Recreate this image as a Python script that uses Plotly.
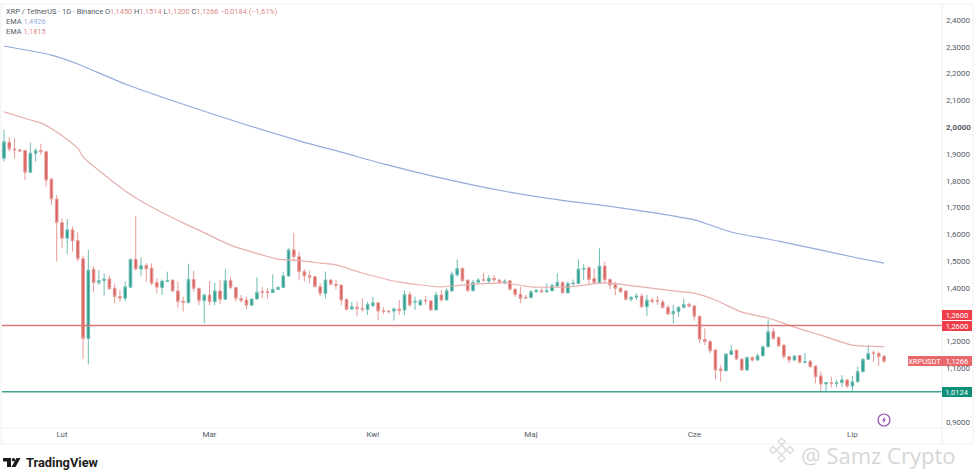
import pandas as pd
import plotly.graph_objects as go

# XRP / TetherUS daily candles
first_day = "2026-01-21"

open_prices = [
    1.884, 1.944, 1.919, 1.915, 1.913, 1.832, 1.903, 1.913, 1.908, 1.806,
    1.732, 1.644, 1.586, 1.617, 1.577, 1.509, 1.212, 1.470, 1.420, 1.428,
    1.434, 1.399, 1.368, 1.362, 1.403, 1.507, 1.471, 1.484, 1.474, 1.420,
    1.402, 1.424, 1.430, 1.389, 1.351, 1.345, 1.432, 1.399, 1.353, 1.374,
    1.349, 1.389, 1.358, 1.427, 1.402, 1.361, 1.355, 1.336, 1.359, 1.386,
    1.386, 1.383, 1.395, 1.402, 1.445, 1.542, 1.517, 1.461, 1.446, 1.442,
    1.405, 1.380, 1.430, 1.414, 1.411, 1.358, 1.322, 1.328, 1.324, 1.320,
    1.335, 1.345, 1.315, 1.314, 1.314, 1.322, 1.318, 1.376, 1.347, 1.337,
    1.355, 1.352, 1.318, 1.374, 1.355, 1.389, 1.449, 1.473, 1.430, 1.390,
    1.421, 1.431, 1.426, 1.436, 1.430, 1.420, 1.427, 1.395, 1.377, 1.365,
    1.365, 1.386, 1.390, 1.386, 1.390, 1.407, 1.421, 1.382, 1.415, 1.417,
    1.470, 1.476, 1.435, 1.420, 1.482, 1.432, 1.414, 1.399, 1.389, 1.358,
    1.365, 1.370, 1.330, 1.355, 1.353, 1.348, 1.328, 1.304, 1.312, 1.328,
    1.339, 1.333, 1.295, 1.208, 1.200, 1.169, 1.098, 1.091, 1.152, 1.168,
    1.135, 1.094, 1.141, 1.131, 1.147, 1.181, 1.237, 1.216, 1.187, 1.144,
    1.131, 1.148, 1.123, 1.127, 1.109, 1.072, 1.042, 1.046, 1.044, 1.047,
    1.057, 1.034, 1.050, 1.088, 1.134, 1.158, 1.156, 1.145,
]
high_prices = [
    1.990, 1.963, 1.959, 1.919, 1.915, 1.943, 1.921, 1.938, 1.913, 1.810,
    1.747, 1.660, 1.657, 1.629, 1.608, 1.520, 1.542, 1.482, 1.467, 1.455,
    1.446, 1.415, 1.393, 1.424, 1.510, 1.669, 1.515, 1.492, 1.492, 1.436,
    1.432, 1.461, 1.430, 1.424, 1.368, 1.490, 1.465, 1.399, 1.378, 1.427,
    1.420, 1.430, 1.470, 1.442, 1.402, 1.374, 1.368, 1.362, 1.440, 1.405,
    1.399, 1.451, 1.407, 1.461, 1.548, 1.606, 1.536, 1.470, 1.465, 1.445,
    1.417, 1.461, 1.432, 1.430, 1.411, 1.358, 1.349, 1.349, 1.361, 1.349,
    1.368, 1.345, 1.328, 1.318, 1.328, 1.355, 1.390, 1.386, 1.368, 1.358,
    1.370, 1.352, 1.386, 1.393, 1.399, 1.461, 1.507, 1.477, 1.430, 1.430,
    1.437, 1.458, 1.448, 1.448, 1.432, 1.432, 1.430, 1.399, 1.405, 1.374,
    1.392, 1.395, 1.399, 1.417, 1.417, 1.455, 1.424, 1.424, 1.432, 1.507,
    1.489, 1.480, 1.473, 1.548, 1.498, 1.436, 1.424, 1.402, 1.392, 1.370,
    1.380, 1.380, 1.374, 1.365, 1.370, 1.355, 1.337, 1.337, 1.333, 1.361,
    1.345, 1.337, 1.295, 1.249, 1.206, 1.169, 1.112, 1.154, 1.187, 1.171,
    1.135, 1.144, 1.144, 1.156, 1.184, 1.283, 1.250, 1.218, 1.187, 1.146,
    1.150, 1.150, 1.158, 1.131, 1.109, 1.088, 1.050, 1.069, 1.057, 1.075,
    1.059, 1.072, 1.106, 1.138, 1.187, 1.166, 1.162, 1.1514,
]
low_prices = [
    1.872, 1.909, 1.884, 1.908, 1.803, 1.828, 1.872, 1.897, 1.778, 1.710,
    1.499, 1.548, 1.527, 1.536, 1.499, 1.134, 1.115, 1.384, 1.411, 1.372,
    1.393, 1.343, 1.347, 1.349, 1.400, 1.465, 1.446, 1.424, 1.412, 1.380,
    1.374, 1.422, 1.386, 1.326, 1.312, 1.345, 1.386, 1.336, 1.268, 1.336,
    1.336, 1.340, 1.356, 1.395, 1.349, 1.346, 1.320, 1.334, 1.358, 1.361,
    1.361, 1.383, 1.392, 1.402, 1.442, 1.498, 1.430, 1.424, 1.417, 1.402,
    1.370, 1.361, 1.411, 1.395, 1.337, 1.318, 1.318, 1.295, 1.312, 1.299,
    1.328, 1.281, 1.303, 1.305, 1.278, 1.299, 1.299, 1.330, 1.318, 1.333,
    1.337, 1.315, 1.318, 1.349, 1.355, 1.386, 1.442, 1.423, 1.386, 1.386,
    1.415, 1.424, 1.417, 1.424, 1.417, 1.414, 1.392, 1.367, 1.343, 1.358,
    1.361, 1.382, 1.382, 1.382, 1.386, 1.405, 1.380, 1.380, 1.411, 1.417,
    1.430, 1.411, 1.417, 1.417, 1.415, 1.395, 1.374, 1.382, 1.353, 1.349,
    1.355, 1.325, 1.296, 1.343, 1.337, 1.324, 1.299, 1.268, 1.293, 1.324,
    1.328, 1.278, 1.193, 1.187, 1.156, 1.059, 1.050, 1.088, 1.150, 1.131,
    1.091, 1.091, 1.125, 1.129, 1.144, 1.178, 1.206, 1.179, 1.134, 1.119,
    1.129, 1.119, 1.119, 1.104, 1.044, 1.013, 1.013, 1.029, 1.029, 1.029,
    1.026, 1.016, 1.047, 1.084, 1.131, 1.125, 1.109, 1.120,
]
close_prices = [
    1.946, 1.919, 1.915, 1.911, 1.832, 1.903, 1.913, 1.908, 1.803, 1.732,
    1.644, 1.586, 1.617, 1.576, 1.509, 1.212, 1.467, 1.420, 1.428, 1.434,
    1.397, 1.368, 1.362, 1.405, 1.507, 1.471, 1.484, 1.471, 1.418, 1.403,
    1.426, 1.427, 1.389, 1.349, 1.346, 1.432, 1.399, 1.353, 1.374, 1.349,
    1.389, 1.358, 1.427, 1.402, 1.361, 1.353, 1.336, 1.359, 1.384, 1.384,
    1.383, 1.395, 1.402, 1.445, 1.542, 1.517, 1.461, 1.445, 1.440, 1.405,
    1.380, 1.430, 1.414, 1.410, 1.355, 1.320, 1.330, 1.323, 1.320, 1.339,
    1.345, 1.314, 1.313, 1.312, 1.322, 1.315, 1.376, 1.337, 1.350, 1.353,
    1.352, 1.318, 1.374, 1.355, 1.390, 1.451, 1.473, 1.427, 1.390, 1.421,
    1.430, 1.429, 1.436, 1.430, 1.420, 1.426, 1.395, 1.376, 1.361, 1.363,
    1.386, 1.392, 1.386, 1.390, 1.409, 1.421, 1.382, 1.417, 1.418, 1.471,
    1.473, 1.432, 1.420, 1.482, 1.430, 1.411, 1.399, 1.386, 1.358, 1.365,
    1.370, 1.330, 1.355, 1.349, 1.351, 1.327, 1.303, 1.313, 1.328, 1.338,
    1.332, 1.295, 1.208, 1.200, 1.166, 1.094, 1.091, 1.154, 1.166, 1.135,
    1.094, 1.141, 1.131, 1.147, 1.181, 1.237, 1.212, 1.184, 1.144, 1.131,
    1.146, 1.123, 1.125, 1.106, 1.069, 1.042, 1.047, 1.044, 1.046, 1.057,
    1.034, 1.050, 1.088, 1.134, 1.156, 1.156, 1.144, 1.1266,
]

# EMA lines, sampled at a few days
ema_blue_days = [0, 9, 14, 23, 39, 56, 64, 72, 83, 95, 107, 116, 131, 138, 147, 162, 167]
ema_blue = [2.303, 2.269, 2.236, 2.161, 2.053, 1.949, 1.907, 1.863, 1.810, 1.761, 1.724, 1.702, 1.654, 1.609,
            1.575, 1.512, 1.4926]

ema_red_days = [0, 5, 7, 10, 14, 15, 23, 28, 34, 37, 43, 52, 55, 60, 63, 68, 75, 83, 87, 95, 100, 107, 114, 121,
                127, 131, 135, 140, 145, 150, 155, 161, 167]
ema_red = [2.057, 2.027, 2.016, 1.982, 1.922, 1.889, 1.762, 1.702, 1.643, 1.616, 1.560, 1.508, 1.504, 1.493,
           1.486, 1.456, 1.422, 1.404, 1.411, 1.419, 1.404, 1.404, 1.419, 1.404, 1.389, 1.381, 1.355, 1.310,
           1.288, 1.254, 1.224, 1.187, 1.1815]

level_red = 1.26
level_green = 1.0124
last_close = 1.1266

# 1,3000 and 1,0000 sit behind the price tags in the picture
y_ticks = [2.4, 2.3, 2.2, 2.1, 2.0, 1.9, 1.8, 1.7, 1.6, 1.5, 1.4, 1.2, 1.1, 0.9]
y_labels = ["2,4000", "2,3000", "2,2000", "2,1000", "<b>2,0000</b>", "1,9000", "1,8000", "1,7000", "1,6000",
            "1,5000", "1,4000", "1,2000", "1,1000", "0,9000"]
month_ticks = ["2026-02-01", "2026-03-01", "2026-04-01", "2026-05-01", "2026-06-01", "2026-07-01"]
month_labels = ["Lut", "Mar", "Kwi", "Maj", "Cze", "Lip"]

W, H = 975, 476
AXIS_X = 942
AXIS_Y = 428
GREEN = "#2a9d8f"
RED = "#d9605c"
INK = "#555b66"
EMA_BLUE = "#94acda"
EMA_RED = "#e6b0ae"


def px(x):
    return x / W


def py(y):
    return 1 - y / H


def pixel_path(points):
    return "M " + " L ".join(f"{px(x):.5f},{py(y):.5f}" for x, y in points) + " Z"


dates = pd.date_range(first_day, periods=len(close_prices), freq="D")

fig = go.Figure()

fig.add_trace(go.Candlestick(
    x=dates, open=open_prices, high=high_prices, low=low_prices, close=close_prices,
    increasing=dict(line=dict(color="#6fbdb3", width=1), fillcolor=GREEN),
    decreasing=dict(line=dict(color="#e59a97", width=1), fillcolor=RED),
    whiskerwidth=0,
))
fig.add_trace(go.Scatter(
    x=dates[ema_blue_days], y=ema_blue, mode="lines",
    line=dict(color=EMA_BLUE, width=1.2, shape="spline", smoothing=0.6),
))
fig.add_trace(go.Scatter(
    x=dates[ema_red_days], y=ema_red, mode="lines",
    line=dict(color=EMA_RED, width=1.2, shape="spline", smoothing=0.6),
))

# support / resistance levels
fig.add_shape(type="line", xref="paper", yref="y", x0=px(2), x1=px(AXIS_X), y0=level_red, y1=level_red,
              line=dict(color="#d9797a", width=1.5))
fig.add_shape(type="line", xref="paper", yref="y", x0=px(2), x1=px(AXIS_X), y0=level_green, y1=level_green,
              line=dict(color="#3fa592", width=1.5))

# pane borders
for y_line in [4, AXIS_Y, 444]:
    fig.add_shape(type="line", xref="paper", yref="paper", x0=px(1), x1=px(973), y0=py(y_line), y1=py(y_line),
                  line=dict(color="#f1f1f1", width=1))
for x_line in [1, AXIS_X, 973]:
    fig.add_shape(type="line", xref="paper", yref="paper", x0=px(x_line), x1=px(x_line), y0=py(4), y1=py(444),
                  line=dict(color="#f0f0f0", width=1))

# TradingView logo
for points in [
    [(3, 458), (11, 458), (11, 467), (7, 467), (7, 461.5), (3, 461.5)],
    [(16.5, 458), (20.5, 458), (15.5, 467), (11.5, 467)],
]:
    fig.add_shape(type="path", xref="paper", yref="paper", path=pixel_path(points),
                  fillcolor="#1c1c1c", line=dict(width=0))
fig.add_shape(type="circle", xref="paper", yref="paper", x0=px(11.8), x1=px(15.2), y0=py(458), y1=py(461.4),
              fillcolor="#1c1c1c", line=dict(width=0))

# replay bolt icon
fig.add_shape(type="circle", xref="paper", yref="paper", x0=px(878), x1=px(890), y0=py(414), y1=py(426),
              fillcolor="white", line=dict(color="#9c4fb5", width=1.2))
fig.add_shape(type="path", xref="paper", yref="paper",
              path=pixel_path([(885, 416.5), (882, 420.5), (883.7, 420.5), (883, 423.5), (886, 419.5), (884.3, 419.5)]),
              fillcolor="#9c4fb5", line=dict(width=0))

# Binance style watermark logo
for cx, cy, r in [(781.5, 450, 5), (781.5, 441.5, 3.5), (781.5, 458.5, 3.5), (773, 450, 3.5), (790, 450, 3.5)]:
    fig.add_shape(type="path", xref="paper", yref="paper",
                  path=pixel_path([(cx, cy - r), (cx + r, cy), (cx, cy + r), (cx - r, cy)]),
                  fillcolor="rgba(255,255,255,0)", line=dict(color="#dcdcdc", width=1.5))


def text(x, y, label, size=8, color=INK, family="Roboto, sans-serif"):
    fig.add_annotation(xref="paper", yref="paper", x=px(x), y=py(y), text=label, showarrow=False,
                       xanchor="left", yanchor="middle", align="left",
                       font=dict(size=size, color=color, family=family))


def tag(x0, x1, price, label, color, yshift=0, height=10):
    fig.add_annotation(xref="paper", yref="y", x=px((x0 + x1) / 2), y=price, text=label, showarrow=False,
                       xanchor="center", yanchor="middle", width=x1 - x0, height=height, bgcolor=color,
                       borderpad=0, borderwidth=0, yshift=yshift, font=dict(size=7.5, color="white"))


header_red = "#e08a88"
text(4, 11, "XRP / TetherUS · 1D · Binance "
            f"<span style='color:{INK}'>O</span><span style='color:{header_red}'>1,1450</span> "
            f"<span style='color:{INK}'>H</span><span style='color:{header_red}'>1,1514</span> "
            f"<span style='color:{INK}'>L</span><span style='color:{header_red}'>1,1200</span> "
            f"<span style='color:{INK}'>C</span><span style='color:{header_red}'>1,1266</span> "
            f"<span style='color:{header_red}'>−0,0184 (−1,61%)</span>", size=7.4)
text(4, 21.5, f"EMA <span style='color:{EMA_BLUE}'>1,4926</span>", size=7.4)
text(4, 31.5, f"EMA <span style='color:{header_red}'>1,1815</span>", size=7.4)

tag(942, 972, level_red, "1,2600", "#ef3e4a", yshift=10.5)
tag(942, 972, level_red, "1,2600", "#ef3e4a")
tag(908, 941.5, last_close, "XRPUSDT", "#e8686a")
tag(942, 972, last_close, "1,1266", "#e8686a")
tag(942, 972, level_green, "1,0124", "#0c8f78")

text(24, 462.5, "<b>TradingView</b>", size=12.8, color="#1c1c1c")
text(799, 455, "@ Samz Crypto", size=22, color="#d6d6d6", family="Open Sans, sans-serif")

fig.update_layout(
    width=W, height=H,
    margin=dict(l=0, r=0, t=0, b=0),
    paper_bgcolor="white", plot_bgcolor="white",
    showlegend=False,
    boxgap=0.3,
    font=dict(family="Roboto, sans-serif", size=8, color=INK),
    xaxis=dict(
        domain=[0, AXIS_X / W], anchor="y",
        range=["2026-01-20 05:46", "2026-07-18"],
        tickmode="array", tickvals=month_ticks, ticktext=month_labels,
        showgrid=False, zeroline=False, showline=False, ticks="", rangeslider=dict(visible=False),
        tickfont=dict(size=8, color=INK),
    ),
    yaxis=dict(
        domain=[1 - AXIS_Y / H, 1], anchor="x", side="right",
        range=[0.8776, 2.4746],
        tickmode="array", tickvals=y_ticks, ticktext=y_labels,
        showgrid=False, zeroline=False, showline=False, ticks="", ticklabelstandoff=3,
        tickfont=dict(size=8, color=INK),
    ),
)

fig.write_html("out.html", config={"displayModeBar": False}, post_script="document.body.style.margin='0';")
